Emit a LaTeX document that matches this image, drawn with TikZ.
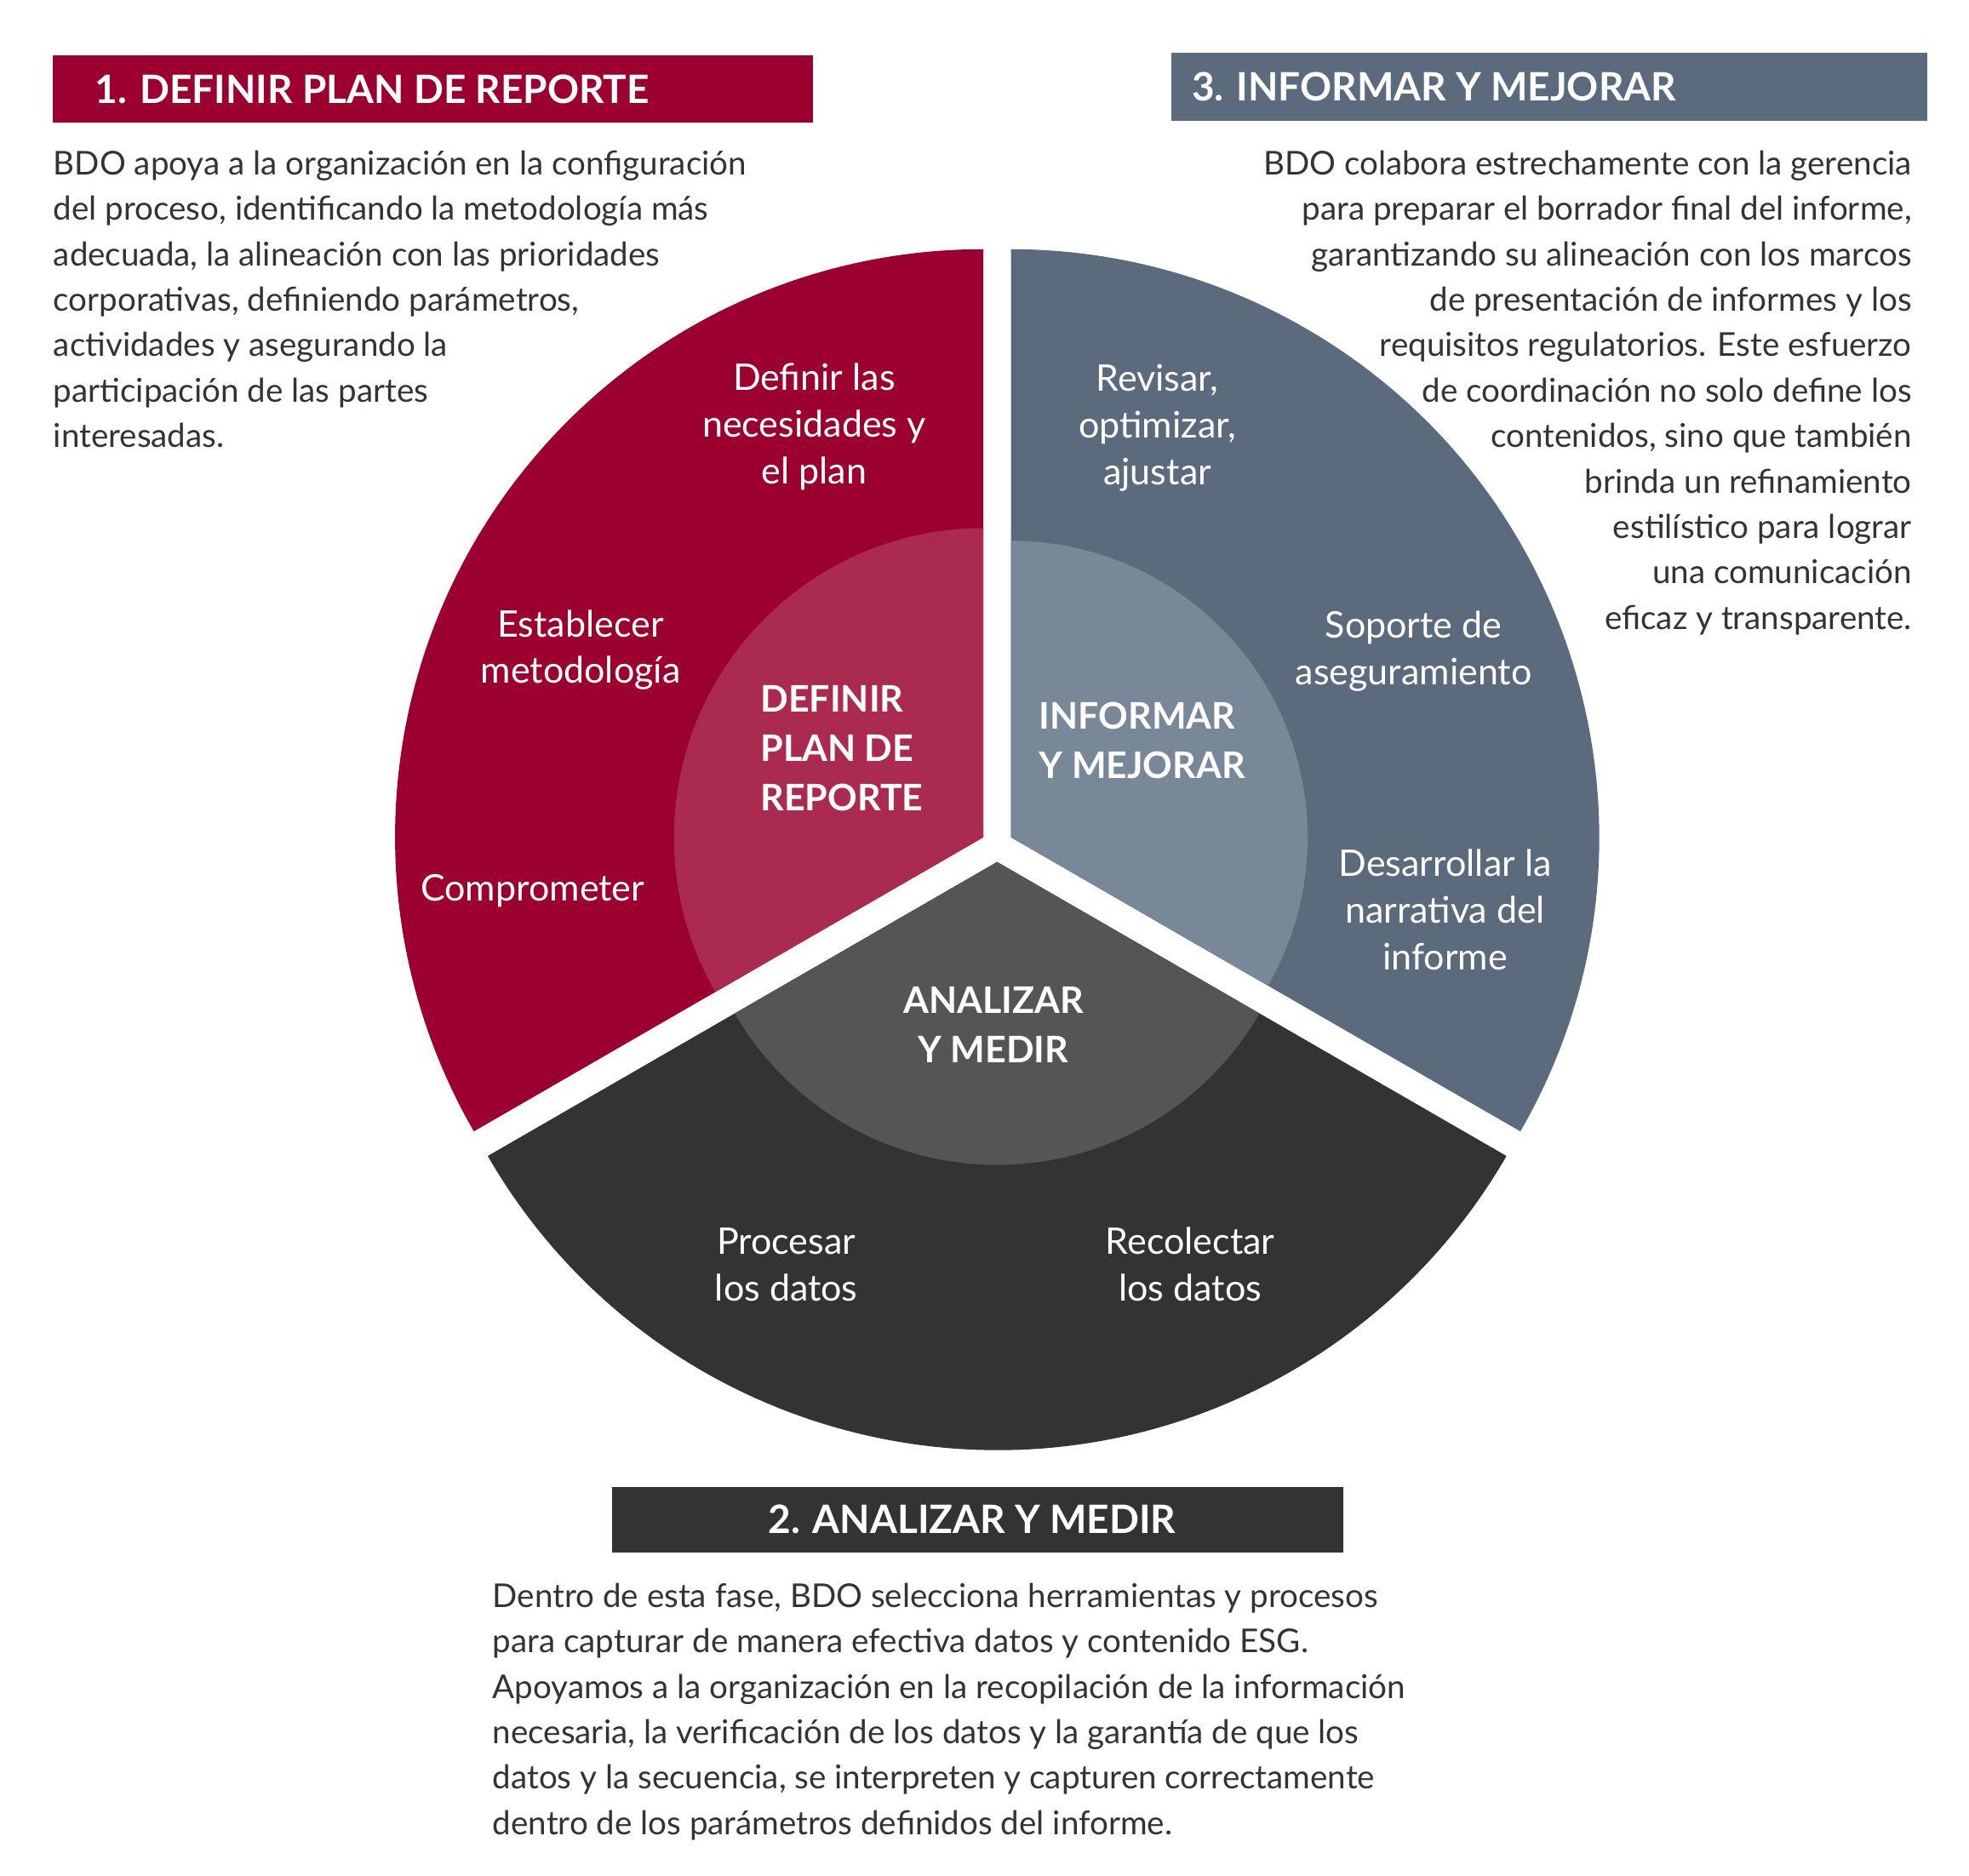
\documentclass[tikz,border=0pt]{standalone}
\usepackage{fontspec}
\setmainfont{Lato}
\definecolor{bred}{HTML}{9B0030}
\definecolor{bredin}{HTML}{AA2A50}
\definecolor{bblue}{HTML}{5B6B7D}
\definecolor{bbluein}{HTML}{788899}
\definecolor{bdark}{HTML}{333333}
\definecolor{bdarkin}{HTML}{555555}
\definecolor{btext}{HTML}{333333}
\begin{document}
\begin{tikzpicture}[x=0.5pt,y=0.5pt,
  body/.style={text=btext,font=\fontsize{13}{18}\selectfont,inner sep=0pt},
  seg/.style={text=white,font=\fontsize{14.5}{18.5}\selectfont,align=center,inner sep=0pt},
  core/.style={text=white,font=\bfseries\fontsize{14.5}{19.5}\selectfont,inner sep=0pt},
  ttl/.style={text=white,font=\bfseries\fontsize{15.5}{18}\selectfont,inner sep=0pt}]
\useasboundingbox (0,0) rectangle (1560,1486);
% sectors
\coordinate (ra) at (779,822.5);
\coordinate (ba) at (801,822.5);
\coordinate (da) at (790,803);
\fill[bred] (ra) -- ++(90:466) arc (90:210:466) -- cycle;
\begin{scope}\clip (ra) -- ++(90:466) arc (90:210:466) -- cycle;
\fill[bredin] (ra) circle (245);\end{scope}
\fill[bblue] (ba) -- ++(-30:466) arc (-30:90:466) -- cycle;
\begin{scope}\clip (ba) -- ++(-30:466) arc (-30:90:466) -- cycle;
\fill[bbluein] (ba) circle (235);\end{scope}
\fill[bdark] (da) -- ++(210:466) arc (210:330:466) -- cycle;
\begin{scope}\clip (da) -- ++(210:466) arc (210:330:466) -- cycle;
\fill[bdarkin] (da) circle (240);\end{scope}
% sector labels
\node[seg] (s1) at (645,1148) {Definir las\\necesidades y\\el plan};
\node[seg] (s2) at (460,971) {Establecer\\metodología};
\node[seg] (s3) at (422,780) {Comprometer};
\node[core,align=left] (c1) at (667,893) {DEFINIR\\PLAN DE\\REPORTE};
\node[seg] (s4) at (917,1147) {Revisar,\\optimizar,\\ajustar};
\node[seg] (s5) at (1120,970) {Soporte de\\aseguramiento};
\node[seg] (s6) at (1145,765) {Desarrollar la\\narrativa del\\informe};
\node[core,align=left] (c3) at (905,899) {INFORMAR\\Y MEJORAR};
\node[core,align=center] (c2) at (787,674) {ANALIZAR\\Y MEDIR};
\node[seg] (s7) at (623,484) {Procesar\\los datos};
\node[seg] (s8) at (943,484) {Recolectar\\los datos};
% title bars
\fill[bred] (42,1389) rectangle (644,1442);
\node[ttl,anchor=west] (t1) at (75,1415.5) {1. DEFINIR PLAN DE REPORTE};
\fill[bblue] (928,1390) rectangle (1527,1444);
\node[ttl,anchor=west] (t3) at (944,1417) {3. INFORMAR Y MEJORAR};
\fill[bdark] (485,256) rectangle (1064,308);
\node[ttl] (t2) at (770,282) {2. ANALIZAR Y MEDIR};
% paragraphs
\node[body,align=left,anchor=north west] (p1) at (42,1367) {BDO apoya a la organización en la configuración\\del proceso, identificando la metodología más\\adecuada, la alineación con las prioridades\\corporativas, definiendo parámetros,\\actividades y asegurando la\\participación de las partes\\interesadas.};
\node[body,align=right,anchor=north east] (p3) at (1515,1367) {BDO colabora estrechamente con la gerencia\\para preparar el borrador final del informe,\\garantizando su alineación con los marcos\\de presentación de informes y los\\requisitos regulatorios. Este esfuerzo\\de coordinación no solo define los\\contenidos, sino que también\\brinda un refinamiento\\estilístico para lograr\\una comunicación\\eficaz y transparente.};
\node[body,align=left,anchor=north west] (p2) at (390,232) {Dentro de esta fase, BDO selecciona herramientas y procesos\\para capturar de manera efectiva datos y contenido ESG.\\Apoyamos a la organización en la recopilación de la información\\necesaria, la verificación de los datos y la garantía de que los\\datos y la secuencia, se interpreten y capturen correctamente\\dentro de los parámetros definidos del informe.};
\end{tikzpicture}
\end{document}
